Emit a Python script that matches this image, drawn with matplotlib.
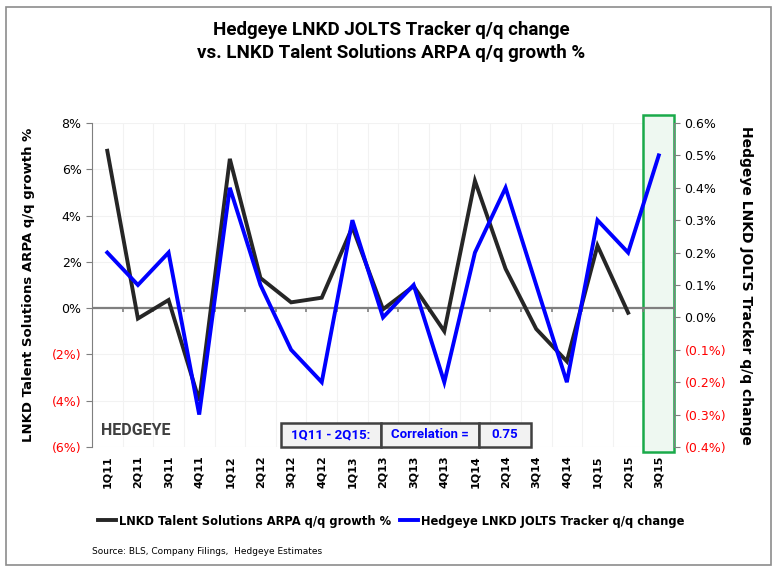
import numpy as np
import matplotlib.pyplot as plt
from matplotlib.patches import Rectangle
from matplotlib.ticker import FuncFormatter

quarters = ["1Q11", "2Q11", "3Q11", "4Q11", "1Q12", "2Q12", "3Q12", "4Q12", "1Q13", "2Q13",
            "3Q13", "4Q13", "1Q14", "2Q14", "3Q14", "4Q14", "1Q15", "2Q15", "3Q15"]
# LNKD Talent Solutions ARPA q/q growth % (left axis), no value for 3Q15
arpa = [6.8, -0.45, 0.35, -4.0, 6.45, 1.3, 0.25, 0.45, 3.5, -0.05,
        0.95, -1.0, 5.5, 1.7, -0.9, -2.3, 2.7, -0.2, np.nan]
# Hedgeye LNKD JOLTS Tracker q/q change % (right axis)
jolts = [0.2, 0.1, 0.2, -0.3, 0.4, 0.1, -0.1, -0.2, 0.3, 0.0,
         0.1, -0.2, 0.2, 0.4, 0.1, -0.2, 0.3, 0.2, 0.5]
left_ticks = [-6, -4, -2, 0, 2, 4, 6, 8]
right_ticks = [-0.4, -0.3, -0.2, -0.1, 0.0, 0.1, 0.2, 0.3, 0.4, 0.5, 0.6]

x = np.arange(len(quarters))

fig = plt.figure(figsize=(7.82, 5.71), dpi=100)
ax1 = fig.add_axes([0.1176, 0.2172, 0.7444, 0.5674])
ax2 = ax1.twinx()

# border around the whole picture
fig.patches.append(Rectangle((0.008, 0.011), 0.978, 0.977, transform=fig.transFigure,
                             fill=False, edgecolor="#8c8c8c", lw=1.2))

ax1.set_xlim(-0.5, len(quarters) - 0.5)
ax1.set_ylim(-6, 8)
ax2.set_ylim(-0.4, 0.6)

# faint grid
for b in np.arange(0.5, len(quarters) - 0.5):
    ax1.axvline(b, color="#f2f2f2", lw=0.8, zorder=0)
for t in left_ticks:
    ax1.axhline(t, color="#f2f2f2", lw=0.8, zorder=0)

# forecast shading
ax1.add_patch(Rectangle((17.5, -0.015), 1.0, 1.04, transform=ax1.get_xaxis_transform(),
                        facecolor="#eef8f1", edgecolor="#1aaa4a", lw=1.8, clip_on=False, zorder=1))

ax1.axhline(0, color="#7f7f7f", lw=1.6, zorder=2)
ax1.plot(np.arange(0.5, len(quarters) - 0.5), np.zeros(len(quarters) - 1), ls="", marker=3,
         ms=3, mew=1.2, color="#7f7f7f", zorder=2)

l1, = ax1.plot(x, arpa, color="#262626", lw=2.8, zorder=3, solid_joinstyle="miter",
               label="LNKD Talent Solutions ARPA q/q growth %")
l2, = ax2.plot(x, jolts, color="#0000ff", lw=2.8, zorder=3, solid_joinstyle="miter",
               label="Hedgeye LNKD JOLTS Tracker q/q change")

def pct_fmt(dec):
    def f(v, pos):
        if abs(v) < 1e-9:
            return f"{0:.{dec}f}%"
        s = f"{abs(v):.{dec}f}%"
        return f"({s})" if v < 0 else s
    return FuncFormatter(f)

ax1.set_yticks(left_ticks)
ax1.yaxis.set_major_formatter(pct_fmt(0))
ax2.set_yticks(right_ticks)
ax2.yaxis.set_major_formatter(pct_fmt(1))

for ax, ticks in ((ax1, left_ticks), (ax2, right_ticks)):
    ax.tick_params(axis="y", labelsize=9, color="#7f7f7f", length=4)
    for lab, t in zip(ax.get_yticklabels(), ticks):
        lab.set_color("#ff0000" if t < 0 else "black")

ax1.set_xticks(x)
ax1.set_xticklabels(quarters, rotation=90, fontsize=8, fontweight="bold")
ax1.tick_params(axis="x", length=0, pad=6)

for ax in (ax1, ax2):
    ax.spines["top"].set_visible(False)
    ax.spines["bottom"].set_visible(False)
    ax.spines["left"].set_color("#7f7f7f")
    ax.spines["right"].set_color("#7f7f7f")
ax2.spines["left"].set_visible(False)
ax1.spines["right"].set_visible(False)

ax1.set_ylabel("LNKD Talent Solutions ARPA q/q growth %", fontsize=9.5, fontweight="bold", labelpad=12)
ax2.set_ylabel("Hedgeye LNKD JOLTS Tracker q/q change", fontsize=10, fontweight="bold",
               rotation=270, labelpad=19)

fig.text(0.5, 0.947, "Hedgeye LNKD JOLTS Tracker q/q change", ha="center", va="center",
         fontsize=13.5, fontweight="bold", family="Roboto")
fig.text(0.5, 0.908, "vs. LNKD Talent Solutions ARPA q/q growth %", ha="center", va="center",
         fontsize=13.5, fontweight="bold", family="Roboto")

# HEDGEYE mark
ax1.text(0.015, 0.05, "HEDGEYE", transform=ax1.transAxes, fontsize=11.5, fontweight="bold",
         color="#404040", ha="left", va="center", family="Roboto")

# correlation boxes
boxes = [(281, 381, "1Q11 - 2Q15:"), (381, 479, "Correlation ="), (479, 531, "0.75")]
for x0, x1, txt in boxes:
    fig.patches.append(Rectangle((x0 / 782, 1 - 447 / 571), (x1 - x0) / 782, 24 / 571,
                                 transform=fig.transFigure, facecolor="#f2f2f2",
                                 edgecolor="#404040", lw=1.8, zorder=5))
    fig.text((x0 + x1) / 2 / 782, 1 - 435 / 571, txt, ha="center", va="center", fontsize=9.5,
             fontweight="bold", color="#0000ff", zorder=6, family="Roboto")

fig.legend(handles=[l1, l2], loc="center", bbox_to_anchor=(0.5, 1 - 521 / 571), ncol=2,
           frameon=False, handlelength=1.6, handletextpad=0.2, columnspacing=0.8,
           prop={"weight": "bold", "size": 8.3})

fig.text(92 / 782, 1 - 552 / 571, "Source: BLS, Company Filings,  Hedgeye Estimates",
         fontsize=6.5, ha="left", va="center")

fig.savefig("out.png", dpi=100)
